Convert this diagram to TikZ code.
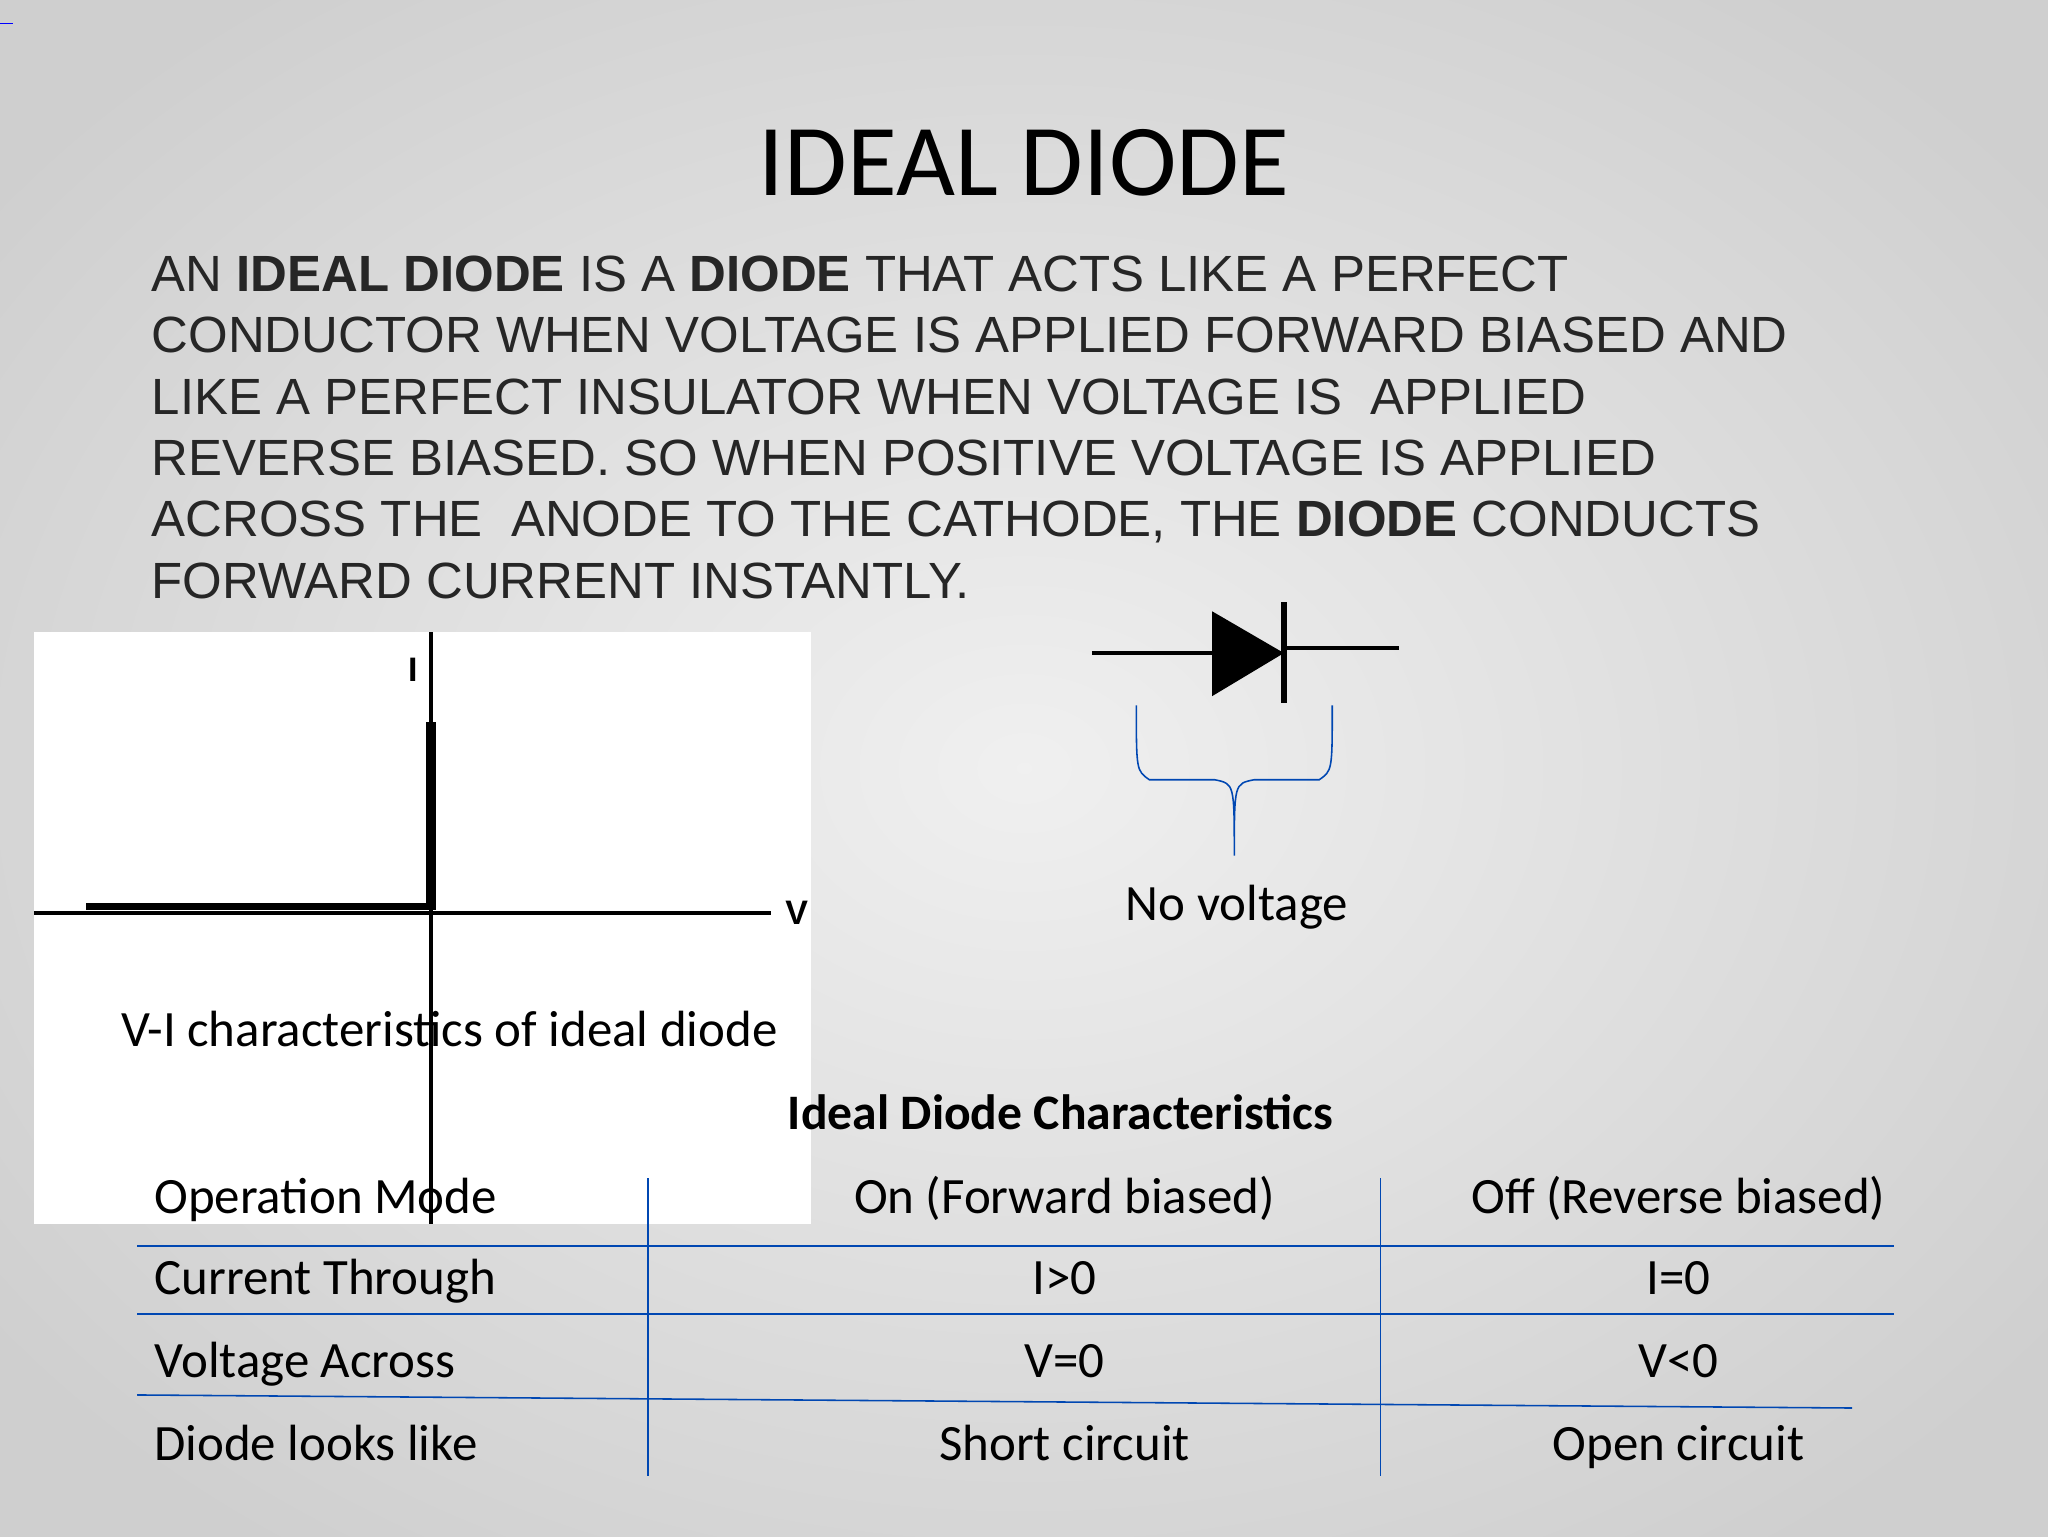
\documentclass[tikz,border=0pt]{standalone}
\usepackage{fontspec}
\setmainfont{Liberation Sans}
\newfontfamily\calfont{Carlito}
\begin{document}
\begin{tikzpicture}[x=1pt,y=-1pt,
  para/.style={anchor=base west,font=\fontsize{39}{39}\selectfont,text=black!85,inner sep=0},
  tbl/.style={font=\calfont\fontsize{39}{39}\selectfont,inner sep=0,anchor=base},
  bl/.style={draw=blue!60!cyan!70!black,line width=1.2pt}]
\definecolor{bgc}{HTML}{CFCFCF}
\useasboundingbox (0,0) rectangle (1568,1176);
\shade[inner color=white!94!black,outer color=bgc] (-200,-150) rectangle (1768,1326);
\draw[blue,line width=1pt] (0,18) -- (10,18);
\node[font=\calfont\fontsize{78}{78}\selectfont,anchor=base] (title) at (784,150) {IDEAL DIODE};
\node[para] (p1) at (116,223) {AN \textbf{IDEAL DIODE} IS A \textbf{DIODE} THAT ACTS LIKE A PERFECT};
\node[para] (p2) at (116,270) {CONDUCTOR WHEN VOLTAGE IS APPLIED FORWARD BIASED AND};
\node[para] (p3) at (116,317) {LIKE A PERFECT INSULATOR WHEN VOLTAGE IS\ \ APPLIED};
\node[para] (p4) at (116,364) {REVERSE BIASED. SO WHEN POSITIVE VOLTAGE IS APPLIED};
\node[para] (p5) at (116,411) {ACROSS THE\ \ ANODE TO THE CATHODE, THE \textbf{DIODE} CONDUCTS};
\node[para] (p6) at (116,458) {FORWARD\ CURRENT INSTANTLY.};
% graph
\fill[white] (26,484) rectangle (621,937);
\draw[line width=2.5pt] (330,484) -- (330,937);
\draw[line width=2.5pt] (26,699) -- (590,699);
\draw[line width=8pt] (330,553) -- (330,697);
\draw[line width=6pt] (66,694) -- (333,694);
\node[font=\bfseries\fontsize{26}{26}\selectfont] (I) at (316,513) {I};
\node[font=\bfseries\fontsize{26}{26}\selectfont] (V) at (610,699) {V};
\node[tbl] (cap) at (344,801) {V-I characteristics of ideal diode};
% diode
\coordinate (a) at (836,500); \coordinate (k) at (1071,496);
\draw[line width=3pt] (a) -- (928,500);
\fill (928,468) -- (983,500) -- (928,533) -- cycle;
\draw[line width=4pt] (983,461) -- (983,538);
\draw[line width=3pt] (983,496) -- (k);
\draw[bl] (870,540) .. controls (870,590) .. (880,597) -- (930,597) .. controls (945,600) .. (945,655)
  .. controls (945,600) .. (960,597) -- (1010,597) .. controls (1020,590) .. (1020,540);
\node[tbl] (nv) at (947,705) {No voltage};
% table
\node[tbl,font=\calfont\bfseries\fontsize{38}{38}\selectfont] (th) at (812,865) {Ideal Diode Characteristics};
\draw[bl] (496,902) -- (496,1130);
\draw[bl] (1057,902) -- (1057,1130);
\draw[bl] (105,954) -- (1450,954);
\draw[bl] (105,1006) -- (1450,1006);
\draw[bl] (105,1068) -- (1418,1078);
\node[tbl,anchor=base west] (r1) at (118,929) {Operation Mode};
\node[tbl,anchor=base west] (r2) at (118,991) {Current Through};
\node[tbl,anchor=base west] (r3) at (118,1055) {Voltage Across};
\node[tbl,anchor=base west] (r4) at (118,1118) {Diode looks like};
\node[tbl] (c1) at (815,929) {On (Forward biased)};
\node[tbl] (c2) at (815,991) {I>0};
\node[tbl] (c3) at (815,1055) {V=0};
\node[tbl] (c4) at (815,1118) {Short circuit};
\node[tbl] (d1) at (1285,929) {Off (Reverse biased)};
\node[tbl] (d2) at (1285,991) {I=0};
\node[tbl] (d3) at (1285,1055) {V<0};
\node[tbl] (d4) at (1285,1118) {Open circuit};
\end{tikzpicture}
\end{document}
